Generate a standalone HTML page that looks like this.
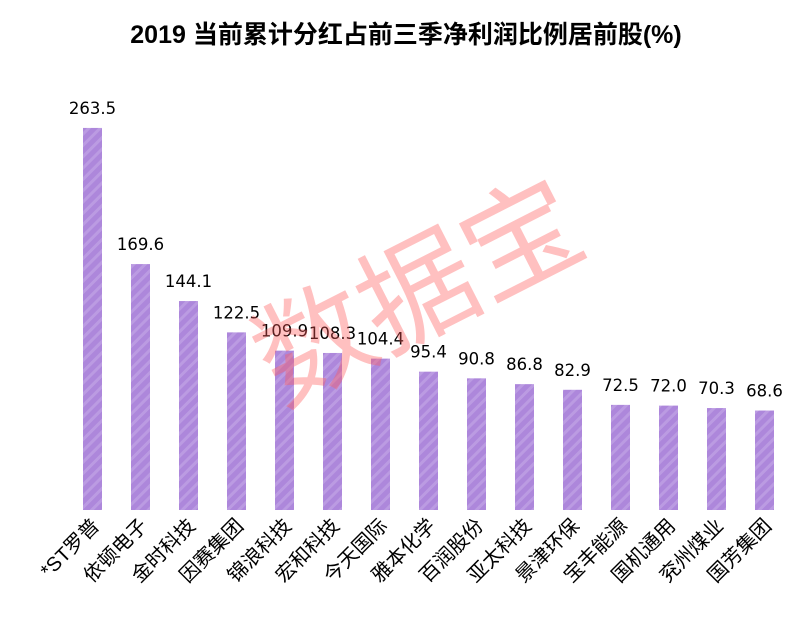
<!DOCTYPE html>
<html><head><meta charset="utf-8"><style>
body{margin:0;width:812px;height:627px;background:#fff;overflow:hidden;position:relative;font-family:"DejaVu Sans","Noto Sans CJK SC",sans-serif}
</style></head><body>
<svg width="812" height="627" style="position:absolute;left:0;top:0">
<defs><pattern id="p" width="8" height="8" patternUnits="userSpaceOnUse" patternTransform="rotate(45)">
<rect width="8" height="8" fill="#ad87db"/><rect width="3" height="8" fill="#bb9be2"/></pattern></defs>
<text x="406" y="43" text-anchor="middle" font-size="25" font-weight="bold" font-family="Liberation Sans,Noto Sans CJK SC,sans-serif">2019 当前累计分红占前三季净利润比例居前股(%)</text>
<g id="bars"></g>
<text transform="translate(422,300) rotate(-27)" text-anchor="middle" font-size="116" fill="rgba(255,90,90,0.38)" font-family="Noto Sans CJK SC,sans-serif" dominant-baseline="middle">数据宝</text>
</svg>
<script>
var d=[["*ST罗普",263.5],["依顿电子",169.6],["金时科技",144.1],["因赛集团",122.5],["锦浪科技",109.9],["宏和科技",108.3],["今天国际",104.4],["雅本化学",95.4],["百润股份",90.8],["亚太科技",86.8],["景津环保",82.9],["宝丰能源",72.5],["国机通用",72.0],["兖州煤业",70.3],["国芳集团",68.6]];
var g=document.getElementById('bars'),s='';
d.forEach(function(e,i){var c=92.5+48*i,h=e[1]*1.45,t=510-h;
s+='<rect x="'+(c-9.5)+'" y="'+t+'" width="19" height="'+h+'" fill="url(#p)"/>';
s+='<text x="'+c+'" y="'+(t-14)+'" text-anchor="middle" font-size="16.5">'+e[1].toFixed(1)+'</text>';
s+='<text transform="translate('+(c+8)+',527) rotate(-45)" text-anchor="end" font-size="20" font-family="Liberation Sans,Noto Sans CJK SC,sans-serif">'+e[0]+'</text>';});
g.innerHTML=s;
</script>
</body></html>
